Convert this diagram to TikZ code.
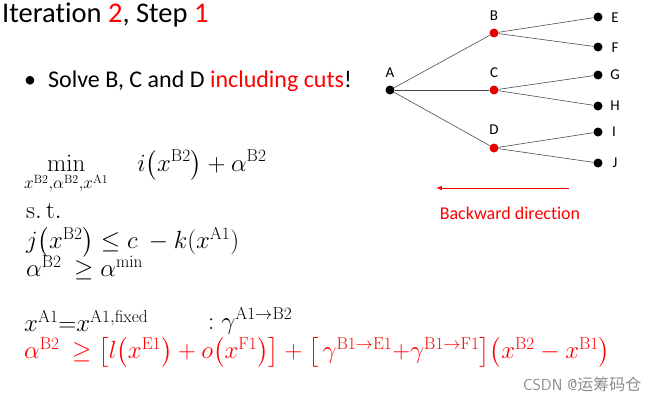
\documentclass[tikz,border=0pt]{standalone}
\usepackage{amsmath}
\usepackage[no-math]{fontspec}
\setmainfont[Ligatures=NoCommon]{Carlito}
\newfontfamily\cjkf{Noto Sans CJK SC}
\newcommand{\rmu}[1]{\mathrm{#1}}
\begin{document}
\begin{tikzpicture}[x=1pt,y=-1pt,
  dotb/.style={circle,fill=black,inner sep=0pt,minimum size=9pt},
  dotr/.style={circle,fill=red!90!black,inner sep=0pt,minimum size=9pt},
  lbl/.style={font=\fontsize{15}{17}\selectfont},
  edge/.style={draw=black!70,line width=0.6pt},
  mth/.style={anchor=west,inner sep=0pt,font=\fontsize{25}{27}\selectfont}]
\useasboundingbox (0,0) rectangle (660,404);
\node[anchor=west,inner sep=0pt,font=\fontsize{28.5}{31}\selectfont] (title) at (2,15) {Iteration \textcolor{red}{2}, Step \textcolor{red}{1}};
\node[anchor=west,inner sep=0pt,font=\fontsize{24}{28}\selectfont] (bul) at (24,81) {\textbullet\hspace{12pt}Solve B, C and D \textcolor{red}{including cuts}!};
% tree
\node[dotb] (A) at (390,90) {};
\node[dotr] (B) at (494,33) {};
\node[dotr] (C) at (494,90) {};
\node[dotr] (D) at (494,148) {};
\node[dotb] (E) at (598,17) {};
\node[dotb] (F) at (598,47) {};
\node[dotb] (G) at (598,75) {};
\node[dotb] (H) at (598,106) {};
\node[dotb] (I) at (598,132) {};
\node[dotb] (J) at (598,163) {};
\foreach \a/\b in {A/B,A/C,A/D,B/E,B/F,C/G,C/H,D/I,D/J} \draw[edge] (\a) -- (\b);
\node[lbl] (lA) at (390,73) {A};
\node[lbl] (lB) at (494,16) {B};
\node[lbl] (lC) at (494,73) {C};
\node[lbl] (lD) at (494,130) {D};
\node[lbl] (lE) at (615,18) {E};
\node[lbl] (lF) at (615,48) {F};
\node[lbl] (lG) at (615,75) {G};
\node[lbl] (lH) at (615,106) {H};
\node[lbl] (lI) at (614,132) {I};
\node[lbl] (lJ) at (615,163) {J};
\coordinate (r1) at (569,188);
\coordinate (r2) at (436,188);
\draw[red,line width=1pt,-latex] (r1) -- (r2);
\node[red,font=\fontsize{18}{20}\selectfont] (bd) at (510,213) {Backward direction};
% math
\node[mth] (m1) at (24,172) {$\displaystyle\min_{x^{\rmu{B2}},\alpha^{\rmu{B2}},x^{\rmu{A1}}}\quad i\big(x^{\rmu{B2}}\big)+\alpha^{\rmu{B2}}$};
\node[mth] (m2) at (26,211) {$\rmu{s.\,t.}$};
\node[mth] (m3) at (26,242) {$j\big(x^{\rmu{B2}}\big)\le c\ -k(x^{\rmu{A1}})$};
\node[mth] (m4) at (26,268) {$\alpha^{\rmu{B2}}\ \ge\alpha^{\min}$};
\node[mth] (m5) at (24,321) {$x^{\rmu{A1}}{=}x^{\rmu{A1,fixed}}$};
\node[mth] (m6) at (208,321) {$:\gamma^{\rmu{A1}\rightarrow\rmu{B2}}$};
\node[mth,red] (m7) at (24,352) {$\alpha^{\rmu{B2}}\ \ge\big[l\big(x^{\rmu{E1}}\big)+o\big(x^{\rmu{F1}}\big)\big]+\big[\,\gamma^{\rmu{B1}\rightarrow\rmu{E1}}{+}\gamma^{\rmu{B1}\rightarrow\rmu{F1}}\big]\big(x^{\rmu{B2}}-x^{\rmu{B1}}\big)$};
\node[anchor=east,text=black!45,font=\fontsize{16}{18}\sffamily] (wm) at (645,384) {CSDN @{\cjkf 运筹码仓}};
\end{tikzpicture}
\end{document}
